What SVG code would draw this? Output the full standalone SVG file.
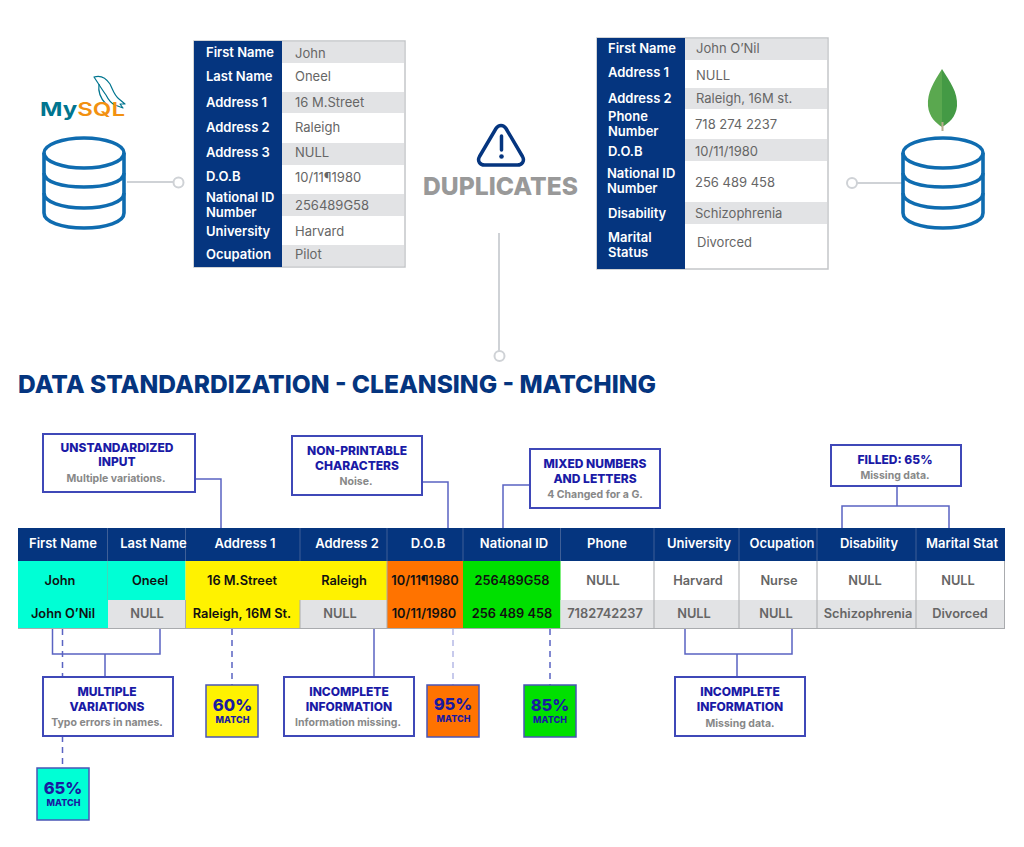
<svg xmlns="http://www.w3.org/2000/svg" width="1024" height="847" viewBox="0 0 1024 847">
<style>
text{font-family:Inter,"Noto Sans",sans-serif}
.lb{font-size:13px;font-weight:600;fill:#fff}
.v{font-size:13px;font-weight:400;fill:#666}
.h{font-size:13px;font-weight:600;fill:#fff;text-anchor:middle}
.k{font-size:12.800px;font-weight:600;fill:#111;text-anchor:middle}
.g{font-size:12.800px;font-weight:600;fill:#666;text-anchor:middle}
.cb{fill:#fff;stroke:#3f48b8;stroke-width:2}
.ct{font-size:12px;font-weight:800;fill:#1a1aa6;text-anchor:middle}
.cs{font-size:10.500px;font-weight:700;fill:#888;text-anchor:middle}
.mb{stroke:#4a55b5;stroke-width:1.500}
.mp{font-size:16.500px;font-weight:800;fill:#1a1aa0;text-anchor:middle}
.mm{font-size:9px;font-weight:800;fill:#1a1aa0;text-anchor:middle}
.c{fill:none;stroke:#5a63c2;stroke-width:1.500}
.d{fill:none;stroke:#5a63c2;stroke-width:1.500;stroke-dasharray:6 5}
.gl{fill:none;stroke:#cfd2d6;stroke-width:2}
.gc{fill:#fff;stroke:#cfd2d6;stroke-width:2}
.db{fill:none;stroke:#0f6cb0;stroke-width:3.600}
.gr{fill:#e2e3e5}
.nv{fill:#05357f}
.sep{stroke:#a9abae;stroke-width:1;fill:none}
.hsep{stroke:#3f5f97;stroke-width:1;fill:none}
.dol{fill:none;stroke:#00758f;stroke-width:1.200;stroke-linejoin:round}
</style>
<defs>
<g id="dbicon">
<ellipse class="db" cx="0" cy="16" rx="40" ry="15"/>
<path class="db" d="M-40 16V76C-40 85-22 91 0 91S40 85 40 76V16"/>
<path class="db" d="M-40 36C-40 45-22 50 0 50S40 45 40 36"/>
<path class="db" d="M-40 56C-40 65-22 71 0 71S40 65 40 56"/>
</g>
</defs>
<rect width="1024" height="847" fill="#fff"/>

<g id="connectors">
<path class="gl" d="M127 182H173"/><circle class="gc" cx="178.500" cy="182.500" r="5"/>
<path class="gl" d="M857 183H902"/><circle class="gc" cx="852" cy="183" r="5"/>
<path class="gl" d="M499 233V351"/><circle class="gc" cx="499.500" cy="356" r="5"/>
<path class="c" d="M195 479H221V528"/>
<path class="c" d="M422 482H448V534"/>
<path class="c" d="M530 485H503V536"/>
<path class="c" d="M897 486V506M842 528V506H949V528"/>
<path class="c" d="M52.500 629V654H160V629M105 654V677"/>
<path class="d" d="M62.500 629V677M62.500 736V768"/>
<path class="d" d="M232 629V685"/>
<path class="c" d="M374 600V677"/>
<path class="d" d="M453 629V685" style="stroke:#b5b9e6"/>
<path class="d" d="M550 629V685"/>
<path class="c" d="M685 629V654H792V629M737 654V677"/>
</g>

<g id="mysql">
<use href="#dbicon" x="84" y="137"/>
<path class="dol" d="M94 77C100 75 106 78 110 84C113 90 114 95 119 99L125 104L120 104L123 108L115 105C110 103 108 99 106 95C103 91 100 86 94 77Z"/>
<path class="dol" d="M99 84C98 91 100 98 106 104"/>
<text x="40" y="116" font-size="19" font-weight="700" textLength="85" lengthAdjust="spacingAndGlyphs"><tspan fill="#00758f">My</tspan><tspan fill="#f29111" font-weight="600">SQL</tspan></text>
</g>

<g id="mongodb">
<use href="#dbicon" x="943" y="137"/>
<path d="M942 69C934 82 927 92 928 106C929 117 936 123 942 127Z" fill="#5aa84f"/>
<path d="M942 69C950 82 958 92 957 106C956 117 949 123 942 127Z" fill="#449a45"/>
<rect x="941.500" y="122" width="2" height="9" fill="#b8ad8f"/>
</g>

<g id="duplicates">
<path d="M496 128.500C498.500 124.500 503.500 124.500 506 128.500L522.500 156.500C525 161 522 165 517.500 165H484.500C480 165 477 161 479.500 156.500Z" fill="none" stroke="#05357f" stroke-width="3.500" stroke-linejoin="round"/>
<path d="M501.500 136V150" stroke="#05357f" stroke-width="3.500" stroke-linecap="round"/>
<circle cx="501.500" cy="156.500" r="2.300" fill="#05357f"/>
<text x="423" y="195" font-size="25" font-weight="800" fill="#999" textLength="155" lengthAdjust="spacingAndGlyphs">DUPLICATES</text>
</g>

<g id="table-mysql">
<rect x="194" y="41" width="211" height="226" fill="#fff" stroke="#c4c6c9" stroke-width="1.500"/>
<rect class="nv" x="194" y="41" width="88" height="226"/>
<rect class="gr" x="282" y="42" width="122" height="21"/>
<rect class="gr" x="282" y="92" width="122" height="21"/>
<rect class="gr" x="282" y="143" width="122" height="22"/>
<rect class="gr" x="282" y="194" width="122" height="22"/>
<rect class="gr" x="282" y="245" width="122" height="21"/>
<text class="lb" x="206" y="57">First Name</text>
<text class="lb" x="206" y="81">Last Name</text>
<text class="lb" x="206" y="107">Address 1</text>
<text class="lb" x="206" y="132">Address 2</text>
<text class="lb" x="206" y="157">Address 3</text>
<text class="lb" x="206" y="181">D.O.B</text>
<text class="lb" x="206" y="202">National ID</text>
<text class="lb" x="206" y="217">Number</text>
<text class="lb" x="206" y="236">University</text>
<text class="lb" x="206" y="259">Ocupation</text>
<text class="v" x="295" y="57.500">John</text>
<text class="v" x="295" y="81">Oneel</text>
<text class="v" x="295" y="107">16 M.Street</text>
<text class="v" x="295" y="132">Raleigh</text>
<text class="v" x="295" y="157">NULL</text>
<text class="v" x="295" y="182">10/11¶1980</text>
<text class="v" x="295" y="210">256489G58</text>
<text class="v" x="295" y="236">Harvard</text>
<text class="v" x="295" y="259">Pilot</text>
</g>

<g id="table-mongodb">
<rect x="597" y="38" width="231" height="231" fill="#fff" stroke="#c4c6c9" stroke-width="1.500"/>
<rect class="nv" x="597" y="38" width="88" height="231"/>
<rect class="gr" x="685" y="39" width="142" height="21"/>
<rect class="gr" x="685" y="88" width="142" height="21"/>
<rect class="gr" x="685" y="139" width="142" height="22"/>
<rect class="gr" x="685" y="202" width="142" height="22"/>
<text class="lb" x="608" y="53">First Name</text>
<text class="lb" x="608" y="77">Address 1</text>
<text class="lb" x="608" y="103">Address 2</text>
<text class="lb" x="608" y="121">Phone</text>
<text class="lb" x="608" y="136">Number</text>
<text class="lb" x="608" y="156">D.O.B</text>
<text class="lb" x="607" y="178">National ID</text>
<text class="lb" x="607" y="193">Number</text>
<text class="lb" x="608" y="218">Disability</text>
<text class="lb" x="608" y="242">Marital</text>
<text class="lb" x="608" y="257">Status</text>
<text class="v" x="696" y="53">John O’Nil</text>
<text class="v" x="696" y="80">NULL</text>
<text class="v" x="696" y="103">Raleigh, 16M st.</text>
<text class="v" x="695" y="129">718 274 2237</text>
<text class="v" x="695" y="156">10/11/1980</text>
<text class="v" x="695" y="187">256 489 458</text>
<text class="v" x="695" y="218">Schizophrenia</text>
<text class="v" x="697" y="247">Divorced</text>
</g>

<g id="title">
<text x="18" y="393" font-size="25" font-weight="800" fill="#05357f" textLength="638" lengthAdjust="spacingAndGlyphs">DATA STANDARDIZATION - CLEANSING - MATCHING</text>
</g>

<g id="main-table">
<rect class="nv" x="18" y="528" width="987" height="33"/>
<rect x="18" y="561" width="167.500" height="39" fill="#00ffd5"/>
<rect x="18" y="600" width="90" height="29" fill="#00ffd5"/>
<rect x="108" y="600" width="77.500" height="29" class="gr"/>
<rect x="185.500" y="561" width="114.500" height="68" fill="#fff200"/>
<rect x="300" y="561" width="87" height="39" fill="#fff200"/>
<rect x="300" y="600" width="87" height="29" class="gr"/>
<rect x="387" y="561" width="76" height="68" fill="#ff7300"/>
<rect x="463" y="561" width="97.500" height="68" fill="#00e000"/>
<rect x="560.500" y="600" width="444.500" height="29" class="gr"/>
<path class="sep" d="M18 628.500H1005M1004.500 561V629"/>
<path class="hsep" d="M107.500 528V561M185.500 528V561M300 528V561M387 528V561M463 528V561M560.500 528V561M654 528V561M739 528V561M817 528V561M916 528V561"/>
<path class="sep" d="M300 600V629M185.500 600V629M387 561V629M654 561V629M739 561V629M817 561V629M916 561V629"/>
<path d="M107.500 561V600" stroke="#3fd9b9" stroke-width="1"/>
<text class="h" x="63" y="548">First Name</text>
<text class="h" x="153.500" y="548">Last Name</text>
<text class="h" x="245" y="548">Address 1</text>
<text class="h" x="347" y="548">Address 2</text>
<text class="h" x="428" y="548">D.O.B</text>
<text class="h" x="514" y="548">National ID</text>
<text class="h" x="607" y="548">Phone</text>
<text class="h" x="699" y="548">University</text>
<text class="h" x="782" y="548">Ocupation</text>
<text class="h" x="869" y="548">Disability</text>
<text class="h" x="962" y="548">Marital Stat</text>
<text class="k" x="60" y="585">John</text>
<text class="k" x="150" y="585">Oneel</text>
<text class="k" x="242" y="585">16 M.Street</text>
<text class="k" x="344" y="585">Raleigh</text>
<text class="k" x="425" y="585">10/11¶1980</text>
<text class="k" x="512" y="585">256489G58</text>
<text class="g" x="603" y="585">NULL</text>
<text class="g" x="698" y="585">Harvard</text>
<text class="g" x="779" y="585">Nurse</text>
<text class="g" x="865" y="585">NULL</text>
<text class="g" x="958" y="585">NULL</text>
<text class="k" x="63" y="618">John O’Nil</text>
<text class="g" x="147" y="618">NULL</text>
<text class="k" x="242" y="618">Raleigh, 16M St.</text>
<text class="g" x="340" y="618">NULL</text>
<text class="k" x="424" y="618">10/11/1980</text>
<text class="k" x="512" y="618">256 489 458</text>
<text class="g" x="605" y="618">7182742237</text>
<text class="g" x="694" y="618">NULL</text>
<text class="g" x="776" y="618">NULL</text>
<text class="g" x="868" y="618">Schizophrenia</text>
<text class="g" x="960" y="618">Divorced</text>
</g>

<g id="callout-unstandardized">
<rect class="cb" x="43" y="434" width="152" height="58"/>
<text class="ct" x="117" y="451.500">UNSTANDARDIZED</text>
<text class="ct" x="117" y="466">INPUT</text>
<text class="cs" x="116" y="482">Multiple variations.</text>
</g>
<g id="callout-nonprintable">
<rect class="cb" x="292" y="436" width="130" height="59"/>
<text class="ct" x="357" y="454.500">NON-PRINTABLE</text>
<text class="ct" x="357" y="469.500">CHARACTERS</text>
<text class="cs" x="356" y="485">Noise.</text>
</g>
<g id="callout-mixed">
<rect class="cb" x="530" y="449" width="130" height="59"/>
<text class="ct" x="595" y="467.500">MIXED NUMBERS</text>
<text class="ct" x="595" y="482.500">AND LETTERS</text>
<text class="cs" x="595" y="498">4 Changed for a G.</text>
</g>
<g id="callout-filled">
<rect class="cb" x="831" y="445" width="130" height="41"/>
<text class="ct" x="895" y="463.500">FILLED: 65%</text>
<text class="cs" x="895" y="479">Missing data.</text>
</g>
<g id="callout-multiple">
<rect class="cb" x="43" y="677" width="130" height="59"/>
<text class="ct" x="107" y="695.500">MULTIPLE</text>
<text class="ct" x="107" y="710.500">VARIATIONS</text>
<text class="cs" x="107" y="726">Typo errors in names.</text>
</g>
<g id="callout-incomplete-1">
<rect class="cb" x="284" y="677" width="130" height="59"/>
<text class="ct" x="349" y="695.500">INCOMPLETE</text>
<text class="ct" x="349" y="710.500">INFORMATION</text>
<text class="cs" x="348" y="726">Information missing.</text>
</g>
<g id="callout-incomplete-2">
<rect class="cb" x="675" y="677" width="130" height="59"/>
<text class="ct" x="740" y="696">INCOMPLETE</text>
<text class="ct" x="740" y="711">INFORMATION</text>
<text class="cs" x="740" y="727">Missing data.</text>
</g>

<g id="match-60">
<rect class="mb" x="206" y="685" width="52" height="52" fill="#fff200"/>
<text class="mp" x="232.500" y="711">60%</text>
<text class="mm" x="232.500" y="722.500">MATCH</text>
</g>
<g id="match-65">
<rect class="mb" x="37" y="768" width="52" height="52" fill="#00ffd5"/>
<text class="mp" x="63" y="794">65%</text>
<text class="mm" x="63.500" y="805.500">MATCH</text>
</g>
<g id="match-95">
<rect class="mb" x="427" y="685" width="52" height="52" fill="#ff7300"/>
<text class="mp" x="453" y="710">95%</text>
<text class="mm" x="453.500" y="721.500">MATCH</text>
</g>
<g id="match-85">
<rect class="mb" x="524" y="685" width="52" height="52" fill="#00e000"/>
<text class="mp" x="550" y="711">85%</text>
<text class="mm" x="550" y="722.500">MATCH</text>
</g>
</svg>
